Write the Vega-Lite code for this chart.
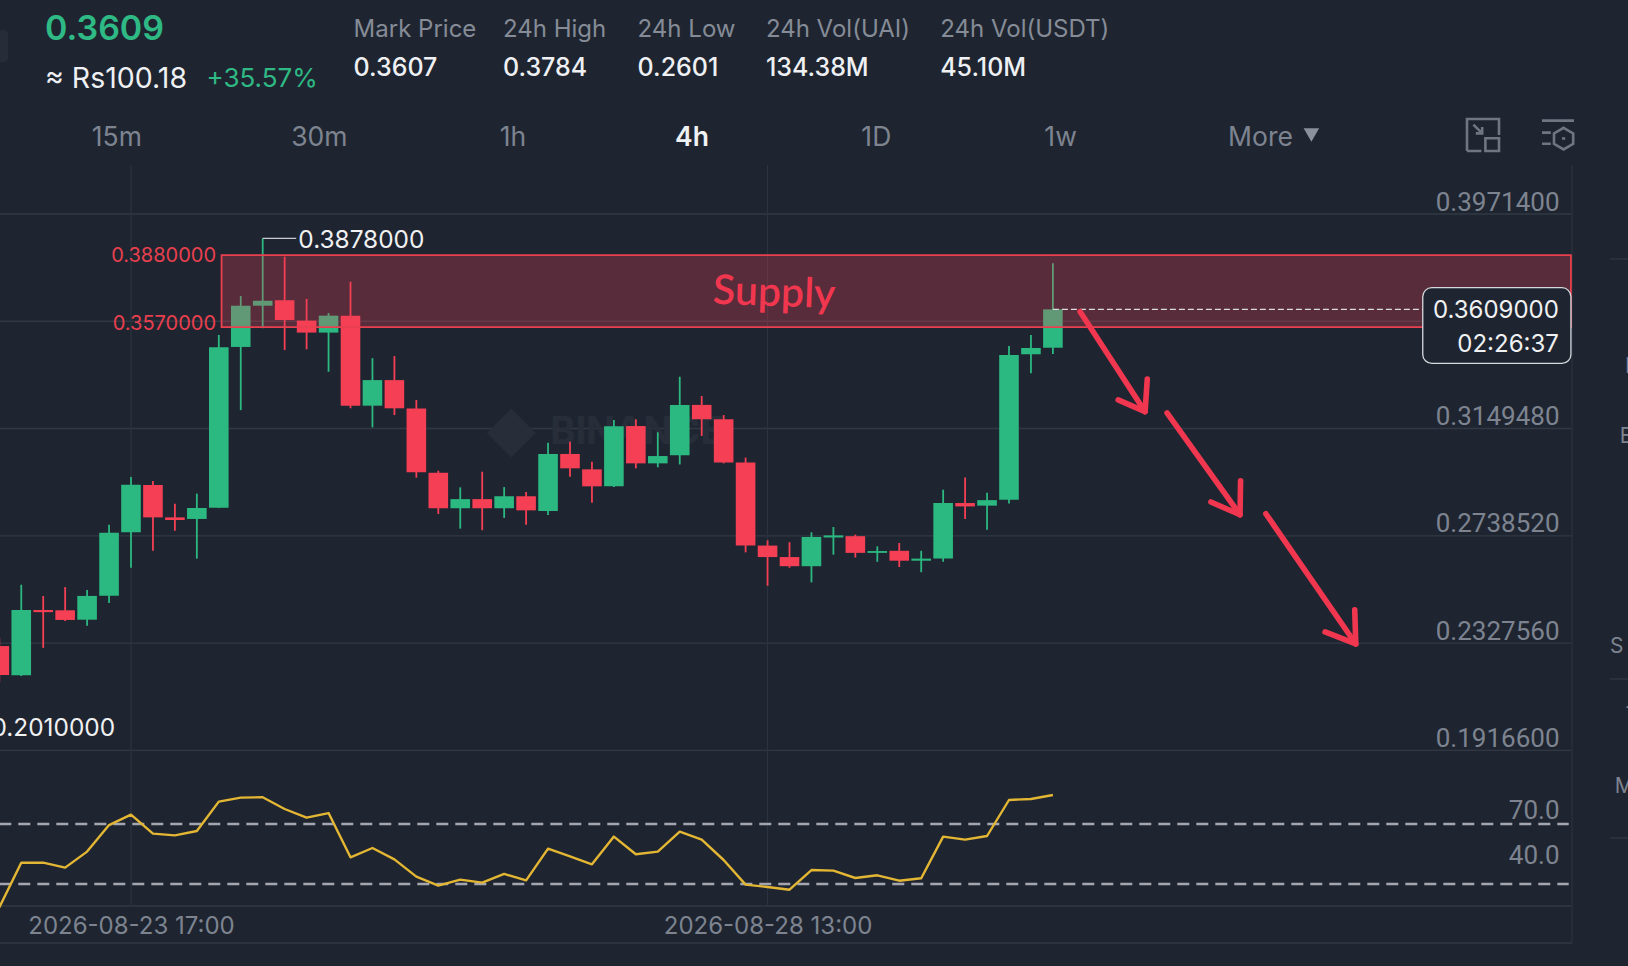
{
  "$schema": "https://vega.github.io/schema/vega-lite/v6.json",
  "width": 1628,
  "height": 966,
  "padding": 0,
  "autosize": {"type": "none"},
  "background": "#1f2530",
  "config": {"view": {"stroke": null}, "text": {"font": "Inter"}},
  "datasets": {
    "candles": [
      {"time":"2026-08-22T17:00","open":0.2316,"high":0.2347,"low":0.2178,"close":0.2205,"dir":"down"},
      {"time":"2026-08-22T21:00","open":0.2204,"high":0.2551,"low":0.2201,"close":0.2454,"dir":"up"},
      {"time":"2026-08-23T01:00","open":0.2454,"high":0.2508,"low":0.2309,"close":0.2446,"dir":"down"},
      {"time":"2026-08-23T05:00","open":0.2453,"high":0.2542,"low":0.2412,"close":0.2416,"dir":"down"},
      {"time":"2026-08-23T09:00","open":0.2417,"high":0.2531,"low":0.2394,"close":0.2508,"dir":"up"},
      {"time":"2026-08-23T13:00","open":0.2509,"high":0.2781,"low":0.2481,"close":0.2750,"dir":"up"},
      {"time":"2026-08-23T17:00","open":0.2752,"high":0.2964,"low":0.2616,"close":0.2934,"dir":"up"},
      {"time":"2026-08-23T21:00","open":0.2933,"high":0.2948,"low":0.2681,"close":0.2809,"dir":"down"},
      {"time":"2026-08-24T01:00","open":0.2809,"high":0.2861,"low":0.2758,"close":0.2799,"dir":"down"},
      {"time":"2026-08-24T05:00","open":0.2803,"high":0.2900,"low":0.2651,"close":0.2845,"dir":"up"},
      {"time":"2026-08-24T09:00","open":0.2846,"high":0.3508,"low":0.2845,"close":0.3461,"dir":"up"},
      {"time":"2026-08-24T13:00","open":0.3462,"high":0.3657,"low":0.3220,"close":0.3620,"dir":"up"},
      {"time":"2026-08-24T17:00","open":0.3620,"high":0.3878,"low":0.3534,"close":0.3639,"dir":"up"},
      {"time":"2026-08-24T21:00","open":0.3641,"high":0.3808,"low":0.3450,"close":0.3565,"dir":"down"},
      {"time":"2026-08-25T01:00","open":0.3563,"high":0.3646,"low":0.3453,"close":0.3517,"dir":"down"},
      {"time":"2026-08-25T05:00","open":0.3517,"high":0.3592,"low":0.3367,"close":0.3582,"dir":"up"},
      {"time":"2026-08-25T09:00","open":0.3582,"high":0.3712,"low":0.3227,"close":0.3237,"dir":"down"},
      {"time":"2026-08-25T13:00","open":0.3237,"high":0.3419,"low":0.3154,"close":0.3335,"dir":"up"},
      {"time":"2026-08-25T17:00","open":0.3335,"high":0.3427,"low":0.3201,"close":0.3227,"dir":"down"},
      {"time":"2026-08-25T21:00","open":0.3226,"high":0.3259,"low":0.2961,"close":0.2982,"dir":"down"},
      {"time":"2026-08-26T01:00","open":0.2980,"high":0.2988,"low":0.2822,"close":0.2844,"dir":"down"},
      {"time":"2026-08-26T05:00","open":0.2844,"high":0.2924,"low":0.2766,"close":0.2879,"dir":"up"},
      {"time":"2026-08-26T09:00","open":0.2879,"high":0.2984,"low":0.2760,"close":0.2844,"dir":"down"},
      {"time":"2026-08-26T13:00","open":0.2844,"high":0.2925,"low":0.2807,"close":0.2890,"dir":"up"},
      {"time":"2026-08-26T17:00","open":0.2890,"high":0.2906,"low":0.2781,"close":0.2836,"dir":"down"},
      {"time":"2026-08-26T21:00","open":0.2833,"high":0.3095,"low":0.2818,"close":0.3052,"dir":"up"},
      {"time":"2026-08-27T01:00","open":0.3052,"high":0.3099,"low":0.2965,"close":0.2997,"dir":"down"},
      {"time":"2026-08-27T05:00","open":0.2993,"high":0.3022,"low":0.2865,"close":0.2928,"dir":"down"},
      {"time":"2026-08-27T09:00","open":0.2928,"high":0.3182,"low":0.2925,"close":0.3158,"dir":"up"},
      {"time":"2026-08-27T13:00","open":0.3159,"high":0.3185,"low":0.2997,"close":0.3016,"dir":"down"},
      {"time":"2026-08-27T17:00","open":0.3016,"high":0.3135,"low":0.3001,"close":0.3044,"dir":"up"},
      {"time":"2026-08-27T21:00","open":0.3047,"high":0.3348,"low":0.3012,"close":0.3240,"dir":"up"},
      {"time":"2026-08-28T01:00","open":0.3240,"high":0.3274,"low":0.3121,"close":0.3185,"dir":"down"},
      {"time":"2026-08-28T05:00","open":0.3185,"high":0.3201,"low":0.3016,"close":0.3019,"dir":"down"},
      {"time":"2026-08-28T09:00","open":0.3019,"high":0.3038,"low":0.2675,"close":0.2701,"dir":"down"},
      {"time":"2026-08-28T13:00","open":0.2701,"high":0.2721,"low":0.2547,"close":0.2657,"dir":"down"},
      {"time":"2026-08-28T17:00","open":0.2657,"high":0.2714,"low":0.2616,"close":0.2622,"dir":"down"},
      {"time":"2026-08-28T21:00","open":0.2622,"high":0.2752,"low":0.2560,"close":0.2734,"dir":"up"},
      {"time":"2026-08-29T01:00","open":0.2732,"high":0.2772,"low":0.2666,"close":0.2740,"dir":"up"},
      {"time":"2026-08-29T05:00","open":0.2737,"high":0.2743,"low":0.2655,"close":0.2673,"dir":"down"},
      {"time":"2026-08-29T09:00","open":0.2673,"high":0.2698,"low":0.2639,"close":0.2680,"dir":"up"},
      {"time":"2026-08-29T13:00","open":0.2681,"high":0.2711,"low":0.2619,"close":0.2643,"dir":"down"},
      {"time":"2026-08-29T17:00","open":0.2643,"high":0.2681,"low":0.2599,"close":0.2651,"dir":"up"},
      {"time":"2026-08-29T21:00","open":0.2651,"high":0.2915,"low":0.2639,"close":0.2864,"dir":"up"},
      {"time":"2026-08-30T01:00","open":0.2864,"high":0.2962,"low":0.2803,"close":0.2851,"dir":"down"},
      {"time":"2026-08-30T05:00","open":0.2854,"high":0.2903,"low":0.2762,"close":0.2875,"dir":"up"},
      {"time":"2026-08-30T09:00","open":0.2877,"high":0.3466,"low":0.2862,"close":0.3431,"dir":"up"},
      {"time":"2026-08-30T13:00","open":0.3434,"high":0.3508,"low":0.3361,"close":0.3458,"dir":"up"},
      {"time":"2026-08-30T17:00","open":0.3459,"high":0.3783,"low":0.3435,"close":0.3606,"dir":"up"}
    ],
    "rsi": [
      {"time":"2026-08-22T17:00","rsi":14.4},{"time":"2026-08-22T21:00","rsi":44.2},{"time":"2026-08-23T01:00","rsi":44.2},
      {"time":"2026-08-23T05:00","rsi":40.9},{"time":"2026-08-23T09:00","rsi":51.6},{"time":"2026-08-23T13:00","rsi":69.3},
      {"time":"2026-08-23T17:00","rsi":76.2},{"time":"2026-08-23T21:00","rsi":63.6},{"time":"2026-08-24T01:00","rsi":62.4},
      {"time":"2026-08-24T05:00","rsi":65.3},{"time":"2026-08-24T09:00","rsi":84.9},{"time":"2026-08-24T13:00","rsi":87.6},
      {"time":"2026-08-24T17:00","rsi":87.8},{"time":"2026-08-24T21:00","rsi":80},{"time":"2026-08-25T01:00","rsi":74.2},
      {"time":"2026-08-25T05:00","rsi":77.3},{"time":"2026-08-25T09:00","rsi":47.8},{"time":"2026-08-25T13:00","rsi":54},
      {"time":"2026-08-25T17:00","rsi":46.4},{"time":"2026-08-25T21:00","rsi":34.9},{"time":"2026-08-26T01:00","rsi":28.9},
      {"time":"2026-08-26T05:00","rsi":32.9},{"time":"2026-08-26T09:00","rsi":30.9},{"time":"2026-08-26T13:00","rsi":36.7},
      {"time":"2026-08-26T17:00","rsi":32.4},{"time":"2026-08-26T21:00","rsi":53.6},{"time":"2026-08-27T01:00","rsi":48.4},
      {"time":"2026-08-27T05:00","rsi":43.1},{"time":"2026-08-27T09:00","rsi":61.6},{"time":"2026-08-27T13:00","rsi":49.8},
      {"time":"2026-08-27T17:00","rsi":51.6},{"time":"2026-08-27T21:00","rsi":64.9},{"time":"2026-08-28T01:00","rsi":59.6},
      {"time":"2026-08-28T05:00","rsi":46},{"time":"2026-08-28T09:00","rsi":29.6},{"time":"2026-08-28T13:00","rsi":28},
      {"time":"2026-08-28T17:00","rsi":26.2},{"time":"2026-08-28T21:00","rsi":39.3},{"time":"2026-08-29T01:00","rsi":38.9},
      {"time":"2026-08-29T05:00","rsi":34},{"time":"2026-08-29T09:00","rsi":35.8},{"time":"2026-08-29T13:00","rsi":32.2},
      {"time":"2026-08-29T17:00","rsi":33.8},{"time":"2026-08-29T21:00","rsi":61.6},{"time":"2026-08-30T01:00","rsi":59.6},
      {"time":"2026-08-30T05:00","rsi":62},{"time":"2026-08-30T09:00","rsi":86},{"time":"2026-08-30T13:00","rsi":86.7},
      {"time":"2026-08-30T17:00","rsi":89.3}
    ],
    "arrows": [
      {"arrow":"a","seq":1,"time":"2026-08-30T21:58","price":0.3597},{"arrow":"a","seq":2,"time":"2026-08-31T09:48","price":0.3214},
      {"arrow":"ah","seq":1,"time":"2026-08-31T04:54","price":0.3259},{"arrow":"ah","seq":2,"time":"2026-08-31T09:48","price":0.3214},{"arrow":"ah","seq":3,"time":"2026-08-31T10:12","price":0.3339},
      {"arrow":"b","seq":1,"time":"2026-08-31T13:48","price":0.3209},{"arrow":"b","seq":2,"time":"2026-09-01T03:06","price":0.2819},
      {"arrow":"bh","seq":1,"time":"2026-08-31T21:48","price":0.2868},{"arrow":"bh","seq":2,"time":"2026-09-01T03:06","price":0.2819},{"arrow":"bh","seq":3,"time":"2026-09-01T03:12","price":0.2949},
      {"arrow":"c","seq":1,"time":"2026-09-01T07:48","price":0.2823},{"arrow":"c","seq":2,"time":"2026-09-02T00:12","price":0.2324},
      {"arrow":"ch","seq":1,"time":"2026-09-01T18:36","price":0.2370},{"arrow":"ch","seq":2,"time":"2026-09-02T00:12","price":0.2324},{"arrow":"ch","seq":3,"time":"2026-09-02T00:00","price":0.2455}
    ]
  },
  "layer": [
    {
      "data": {"values": [
        {"price":0.39714,"from":"2026-08-22T17:00","to":"2026-09-03T15:36"},
        {"price":0.356044,"from":"2026-08-22T17:00","to":"2026-09-03T15:36"},
        {"price":0.314948,"from":"2026-08-22T17:00","to":"2026-09-03T15:36"},
        {"price":0.273852,"from":"2026-08-22T17:00","to":"2026-09-03T15:36"},
        {"price":0.232756,"from":"2026-08-22T17:00","to":"2026-09-03T15:36"},
        {"price":0.19166,"from":"2026-08-22T17:00","to":"2026-09-03T15:36"}
      ], "format": {"parse": {"from":"date","to":"date"}}},
      "mark": {"type":"rule","color":"#313843","strokeWidth":1.3},
      "encoding": {
        "x": {"field":"from","type":"temporal","scale":{"domain":["2026-08-22T17:00","2026-08-30T17:00"],"range":[-0.7,1052.9],"nice":false,"padding":0},"axis":null},
        "x2": {"field":"to"},
        "y": {"field":"price","type":"quantitative","scale":{"domain":[0.19166,0.39714],"range":[750.3,214],"nice":false,"zero":false},
          "axis":{"orient":"right","offset":-69,"values":[0.39714,0.314948,0.273852,0.232756,0.19166],"format":".7f","domain":false,"ticks":false,"grid":false,"title":null,"labelAlign":"right","labelBaseline":"middle","labelOffset":-12,"labelPadding":0,"labelFontSize":26,"labelColor":"#7d8490","labelFont":"Roboto","labelLimit":400,"labelFlush":false,"labelOverlap":false,"labelBound":false}}
      }
    },
    {
      "data": {"values": [
        {"level":15.33,"from":"2026-08-22T17:00","to":"2026-09-03T15:36"},
        {"level":-9.33,"from":"2026-08-22T17:00","to":"2026-09-03T15:36"}
      ], "format":{"parse":{"from":"date","to":"date"}}},
      "mark": {"type":"rule","color":"#313843","strokeWidth":1.3},
      "encoding": {
        "x": {"field":"from","type":"temporal","scale":{"domain":["2026-08-22T17:00","2026-08-30T17:00"],"range":[-0.7,1052.9],"nice":false,"padding":0},
          "axis":{"orient":"bottom","offset":-54,"values":["2026-08-23T17:00","2026-08-28T13:00"],"format":"%Y-%m-%d %H:%M","domain":false,"ticks":false,"grid":false,"title":null,"labelAlign":"center","labelBaseline":"top","labelPadding":2,"labelFontSize":24,"labelColor":"#7d8490","labelFont":"Inter","labelLimit":400,"labelFlush":false,"labelOverlap":false,"labelBound":false}},
        "x2": {"field":"to"},
        "y": {"field":"level","type":"quantitative","scale":{"domain":[30,70],"range":[884,824],"nice":false,"zero":false},
          "axis":{"orient":"right","offset":-69,"values":[70,40],"format":".1f","domain":false,"ticks":false,"grid":false,"title":null,"labelAlign":"right","labelBaseline":"middle","labelOffset":-14,"labelPadding":0,"labelFontSize":26,"labelColor":"#7d8490","labelFont":"Roboto","labelFlush":false,"labelOverlap":false,"labelBound":false}}
      }
    },
    {
      "layer": [
        {
          "data": {"values": [
            {"time":"2026-08-23T17:00","top":0.41592,"bottom":0.13201},
            {"time":"2026-08-28T13:00","top":0.41592,"bottom":0.13201},
            {"time":"2026-09-03T15:36","top":0.41592,"bottom":0.11782}
          ]},
          "mark": {"type":"rule","color":"#2c333e","strokeWidth":1.2},
          "encoding": {
            "x": {"field":"time","type":"temporal","scale":{"domain":["2026-08-22T17:00","2026-08-30T17:00"],"range":[-0.7,1052.9],"nice":false,"padding":0},"axis":null},
            "y": {"field":"top","type":"quantitative","scale":{"domain":[0.19166,0.39714],"range":[750.3,214],"nice":false,"zero":false},"axis":null},
            "y2": {"field":"bottom"}
          }
        },
        {
          "data": {"values": [{"time":"2026-08-26T14:18","price":0.3132}]},
          "mark": {"type":"point","shape":"diamond","filled":true,"color":"#272e39","size":2400,"opacity":1},
          "encoding": {
            "x": {"field":"time","type":"temporal","scale":{"domain":["2026-08-22T17:00","2026-08-30T17:00"],"range":[-0.7,1052.9],"nice":false,"padding":0},"axis":null},
            "y": {"field":"price","type":"quantitative","scale":{"domain":[0.19166,0.39714],"range":[750.3,214],"nice":false,"zero":false},"axis":null}
          }
        },
        {
          "data": {"values": [{"time":"2026-08-26T21:24","price":0.3132,"label":"BINANCE"}]},
          "mark": {"type":"text","align":"left","baseline":"middle","fontSize":38,"fontWeight":700,"color":"#272e39"},
          "encoding": {
            "x": {"field":"time","type":"temporal","scale":{"domain":["2026-08-22T17:00","2026-08-30T17:00"],"range":[-0.7,1052.9],"nice":false,"padding":0},"axis":null},
            "y": {"field":"price","type":"quantitative","scale":{"domain":[0.19166,0.39714],"range":[750.3,214],"nice":false,"zero":false},"axis":null},
            "text": {"field":"label"}
          }
        },
        {
          "data": {"name":"candles"},
          "mark": {"type":"rule","strokeWidth":1.8},
          "encoding": {
            "x": {"field":"time","type":"temporal","scale":{"domain":["2026-08-22T17:00","2026-08-30T17:00"],"range":[-0.7,1052.9],"nice":false,"padding":0},"axis":null},
            "y": {"field":"low","type":"quantitative","scale":{"domain":[0.19166,0.39714],"range":[750.3,214],"nice":false,"zero":false},"axis":null},
            "y2": {"field":"high"},
            "color": {"field":"dir","type":"nominal","scale":{"domain":["up","down"],"range":["#2bb981","#f43f54"]},"legend":null}
          }
        },
        {
          "data": {"name":"candles"},
          "mark": {"type":"bar","width":19.6,"orient":"vertical"},
          "encoding": {
            "x": {"field":"time","type":"temporal","scale":{"domain":["2026-08-22T17:00","2026-08-30T17:00"],"range":[-0.7,1052.9],"nice":false,"padding":0},"axis":null},
            "y": {"field":"open","type":"quantitative","scale":{"domain":[0.19166,0.39714],"range":[750.3,214],"nice":false,"zero":false},"axis":null},
            "y2": {"field":"close"},
            "color": {"field":"dir","type":"nominal","scale":{"domain":["up","down"],"range":["#2bb981","#f43f54"]},"legend":null}
          }
        },
        {
          "data": {"values": [{"from":"2026-08-24T09:30","to":"2026-09-03T15:24","top":0.3814,"bottom":0.3538}], "format":{"parse":{"from":"date","to":"date"}}},
          "mark": {"type":"rect","fill":"#f43f54","fillOpacity":0.27,"stroke":"#e8404f","strokeWidth":1.8},
          "encoding": {
            "x": {"field":"from","type":"temporal","scale":{"domain":["2026-08-22T17:00","2026-08-30T17:00"],"range":[-0.7,1052.9],"nice":false,"padding":0},"axis":null},
            "x2": {"field":"to"},
            "y": {"field":"top","type":"quantitative","scale":{"domain":[0.19166,0.39714],"range":[750.3,214],"nice":false,"zero":false},"axis":null},
            "y2": {"field":"bottom"}
          }
        },
        {
          "data": {"values": [{"from":"2026-08-30T17:00","to":"2026-09-02T12:24","price":0.3606}], "format":{"parse":{"from":"date","to":"date"}}},
          "mark": {"type":"rule","color":"#d9dce1","strokeWidth":1.2,"strokeDash":[6,3]},
          "encoding": {
            "x": {"field":"from","type":"temporal","scale":{"domain":["2026-08-22T17:00","2026-08-30T17:00"],"range":[-0.7,1052.9],"nice":false,"padding":0},"axis":null},
            "x2": {"field":"to"},
            "y": {"field":"price","type":"quantitative","scale":{"domain":[0.19166,0.39714],"range":[750.3,214],"nice":false,"zero":false},"axis":null}
          }
        },
        {
          "data": {"values": [{"from":"2026-08-24T17:00","to":"2026-08-24T23:06","price":0.3878}], "format":{"parse":{"from":"date","to":"date"}}},
          "mark": {"type":"rule","color":"#c8ccd2","strokeWidth":1.3},
          "encoding": {
            "x": {"field":"from","type":"temporal","scale":{"domain":["2026-08-22T17:00","2026-08-30T17:00"],"range":[-0.7,1052.9],"nice":false,"padding":0},"axis":null},
            "x2": {"field":"to"},
            "y": {"field":"price","type":"quantitative","scale":{"domain":[0.19166,0.39714],"range":[750.3,214],"nice":false,"zero":false},"axis":null}
          }
        },
        {
          "data": {"name":"arrows"},
          "mark": {"type":"line","color":"#f0374f","strokeWidth":5.6,"strokeCap":"round","strokeJoin":"round"},
          "encoding": {
            "x": {"field":"time","type":"temporal","scale":{"domain":["2026-08-22T17:00","2026-08-30T17:00"],"range":[-0.7,1052.9],"nice":false,"padding":0},"axis":null},
            "y": {"field":"price","type":"quantitative","scale":{"domain":[0.19166,0.39714],"range":[750.3,214],"nice":false,"zero":false},"axis":null},
            "detail": {"field":"arrow"},
            "order": {"field":"seq"}
          }
        },
        {
          "data": {"values": [{"from":"2026-09-02T12:24","to":"2026-09-03T15:24","top":0.3689,"bottom":0.3399}], "format":{"parse":{"from":"date","to":"date"}}},
          "mark": {"type":"rect","fill":"#1f2530","stroke":"#d5d8dd","strokeWidth":1.3,"cornerRadius":9},
          "encoding": {
            "x": {"field":"from","type":"temporal","scale":{"domain":["2026-08-22T17:00","2026-08-30T17:00"],"range":[-0.7,1052.9],"nice":false,"padding":0},"axis":null},
            "x2": {"field":"to"},
            "y": {"field":"top","type":"quantitative","scale":{"domain":[0.19166,0.39714],"range":[750.3,214],"nice":false,"zero":false},"axis":null},
            "y2": {"field":"bottom"}
          }
        },
        {
          "data": {"values": [
            {"time":"2026-09-03T13:12","price":0.3599,"label":"0.3609000"},
            {"time":"2026-09-03T13:12","price":0.3471,"label":"02:26:37"}
          ]},
          "mark": {"type":"text","align":"right","baseline":"middle","fontSize":24,"color":"#f0f1f3"},
          "encoding": {
            "x": {"field":"time","type":"temporal","scale":{"domain":["2026-08-22T17:00","2026-08-30T17:00"],"range":[-0.7,1052.9],"nice":false,"padding":0},"axis":null},
            "y": {"field":"price","type":"quantitative","scale":{"domain":[0.19166,0.39714],"range":[750.3,214],"nice":false,"zero":false},"axis":null},
            "text": {"field":"label"}
          }
        },
        {
          "data": {"values": [
            {"time":"2026-08-24T08:30","price":0.3810,"label":"0.3880000"},
            {"time":"2026-08-24T08:30","price":0.3551,"label":"0.3570000"}
          ]},
          "mark": {"type":"text","align":"right","baseline":"middle","fontSize":20,"color":"#e8404f"},
          "encoding": {
            "x": {"field":"time","type":"temporal","scale":{"domain":["2026-08-22T17:00","2026-08-30T17:00"],"range":[-0.7,1052.9],"nice":false,"padding":0},"axis":null},
            "y": {"field":"price","type":"quantitative","scale":{"domain":[0.19166,0.39714],"range":[750.3,214],"nice":false,"zero":false},"axis":null},
            "text": {"field":"label"}
          }
        },
        {
          "data": {"values": [{"time":"2026-08-24T23:30","price":0.3868,"label":"0.3878000"}]},
          "mark": {"type":"text","align":"left","baseline":"middle","fontSize":24.4,"color":"#f0f1f3"},
          "encoding": {
            "x": {"field":"time","type":"temporal","scale":{"domain":["2026-08-22T17:00","2026-08-30T17:00"],"range":[-0.7,1052.9],"nice":false,"padding":0},"axis":null},
            "y": {"field":"price","type":"quantitative","scale":{"domain":[0.19166,0.39714],"range":[750.3,214],"nice":false,"zero":false},"axis":null},
            "text": {"field":"label"}
          }
        },
        {
          "data": {"values": [{"time":"2026-08-23T14:06","price":0.1999,"label":"0.2010000"}]},
          "mark": {"type":"text","align":"right","baseline":"middle","fontSize":24.4,"color":"#f0f1f3"},
          "encoding": {
            "x": {"field":"time","type":"temporal","scale":{"domain":["2026-08-22T17:00","2026-08-30T17:00"],"range":[-0.7,1052.9],"nice":false,"padding":0},"axis":null},
            "y": {"field":"price","type":"quantitative","scale":{"domain":[0.19166,0.39714],"range":[750.3,214],"nice":false,"zero":false},"axis":null},
            "text": {"field":"label"}
          }
        },
        {
          "data": {"values": [{"time":"2026-08-28T14:12","price":0.3665,"label":"Supply"}]},
          "mark": {"type":"text","align":"center","baseline":"middle","font":"Lato","fontSize":41,"fontWeight":600,"angle":2,"color":"#f0374f"},
          "encoding": {
            "x": {"field":"time","type":"temporal","scale":{"domain":["2026-08-22T17:00","2026-08-30T17:00"],"range":[-0.7,1052.9],"nice":false,"padding":0},"axis":null},
            "y": {"field":"price","type":"quantitative","scale":{"domain":[0.19166,0.39714],"range":[750.3,214],"nice":false,"zero":false},"axis":null},
            "text": {"field":"label"}
          }
        }
      ]
    },
    {
      "layer": [
        {
          "data": {"values": [
            {"level":70,"from":"2026-08-22T17:00","to":"2026-09-03T15:00"},
            {"level":30,"from":"2026-08-22T17:00","to":"2026-09-03T15:00"}
          ], "format":{"parse":{"from":"date","to":"date"}}},
          "mark": {"type":"rule","color":"#a3a6ae","strokeWidth":2.4,"strokeDash":[12,7]},
          "encoding": {
            "x": {"field":"from","type":"temporal","scale":{"domain":["2026-08-22T17:00","2026-08-30T17:00"],"range":[-0.7,1052.9],"nice":false,"padding":0},"axis":null},
            "x2": {"field":"to"},
            "y": {"field":"level","type":"quantitative","scale":{"domain":[30,70],"range":[884,824],"nice":false,"zero":false},"axis":null}
          }
        },
        {
          "data": {"name":"rsi"},
          "mark": {"type":"line","color":"#e3b634","strokeWidth":2.4,"strokeJoin":"round"},
          "encoding": {
            "x": {"field":"time","type":"temporal","scale":{"domain":["2026-08-22T17:00","2026-08-30T17:00"],"range":[-0.7,1052.9],"nice":false,"padding":0},"axis":null},
            "y": {"field":"rsi","type":"quantitative","scale":{"domain":[30,70],"range":[884,824],"nice":false,"zero":false},"axis":null}
          }
        }
      ]
    },
    {
      "layer": [
        {
          "data": {"values": [{"slot":17,"slotEnd":18,"row":13,"rowEnd":14}]},
          "mark": {"type":"rect","fill":"#272d38","cornerRadius":4},
          "encoding": {
            "x": {"field":"slot","type":"quantitative","scale":{"domain":[0,1,2,3,4,5,6,7,8,9,10,11,12,13,14,15,16,17,18,19,20,21,22,23],"range":[45,206.5,353.6,503,637.6,765.9,940.2,116.8,319.3,513,692,876.3,1060.6,1260.5,1311.4,1483,1558,-4,8,1610,1628,1619.7,1625,1614.7],"nice":false,"zero":false},"axis":null},
            "x2": {"field":"slotEnd"},
            "y": {"field":"row","type":"quantitative","scale":{"domain":[0,1,2,3,4,5,6,7,8,9,10,11,12,13,14],"range":[29.5,67.7,79,137.7,135,259,367,437,647,679,787,838,708,30,62],"nice":false,"zero":false},"axis":null},
            "y2": {"field":"rowEnd"}
          }
        },
        {
          "data": {"values": [
            {"slot":19,"slotEnd":20,"row":5},{"slot":19,"slotEnd":20,"row":9},{"slot":19,"slotEnd":20,"row":11}
          ]},
          "mark": {"type":"rule","color":"#313843","strokeWidth":1.3},
          "encoding": {
            "x": {"field":"slot","type":"quantitative","scale":{"domain":[0,1,2,3,4,5,6,7,8,9,10,11,12,13,14,15,16,17,18,19,20,21,22,23],"range":[45,206.5,353.6,503,637.6,765.9,940.2,116.8,319.3,513,692,876.3,1060.6,1260.5,1311.4,1483,1558,-4,8,1610,1628,1619.7,1625,1614.7],"nice":false,"zero":false},"axis":null},
            "x2": {"field":"slotEnd"},
            "y": {"field":"row","type":"quantitative","scale":{"domain":[0,1,2,3,4,5,6,7,8,9,10,11,12,13,14],"range":[29.5,67.7,79,137.7,135,259,367,437,647,679,787,838,708,30,62],"nice":false,"zero":false},"axis":null}
          }
        },
        {
          "data": {"values": [{"slot":0,"row":0,"text":"0.3609"}]},
          "mark": {"type":"text","align":"left","baseline":"middle","fontSize":34,"fontWeight":600,"color":"#2eb985"},
          "encoding": {
            "x": {"field":"slot","type":"quantitative","scale":{"domain":[0,1,2,3,4,5,6,7,8,9,10,11,12,13,14,15,16,17,18,19,20,21,22,23],"range":[45,206.5,353.6,503,637.6,765.9,940.2,116.8,319.3,513,692,876.3,1060.6,1260.5,1311.4,1483,1558,-4,8,1610,1628,1619.7,1625,1614.7],"nice":false,"zero":false},"axis":null},
            "y": {"field":"row","type":"quantitative","scale":{"domain":[0,1,2,3,4,5,6,7,8,9,10,11,12,13,14],"range":[29.5,67.7,79,137.7,135,259,367,437,647,679,787,838,708,30,62],"nice":false,"zero":false},"axis":null},
            "text": {"field":"text"}
          }
        },
        {
          "data": {"values": [{"slot":0,"row":2,"text":"≈ Rs100.18"}]},
          "mark": {"type":"text","align":"left","baseline":"middle","fontSize":28.5,"fontWeight":400,"color":"#eef0f3"},
          "encoding": {
            "x": {"field":"slot","type":"quantitative","scale":{"domain":[0,1,2,3,4,5,6,7,8,9,10,11,12,13,14,15,16,17,18,19,20,21,22,23],"range":[45,206.5,353.6,503,637.6,765.9,940.2,116.8,319.3,513,692,876.3,1060.6,1260.5,1311.4,1483,1558,-4,8,1610,1628,1619.7,1625,1614.7],"nice":false,"zero":false},"axis":null},
            "y": {"field":"row","type":"quantitative","scale":{"domain":[0,1,2,3,4,5,6,7,8,9,10,11,12,13,14],"range":[29.5,67.7,79,137.7,135,259,367,437,647,679,787,838,708,30,62],"nice":false,"zero":false},"axis":null},
            "text": {"field":"text"}
          }
        },
        {
          "data": {"values": [{"slot":1,"row":2,"text":"+35.57%"}]},
          "mark": {"type":"text","align":"left","baseline":"middle","fontSize":26,"color":"#2eb985"},
          "encoding": {
            "x": {"field":"slot","type":"quantitative","scale":{"domain":[0,1,2,3,4,5,6,7,8,9,10,11,12,13,14,15,16,17,18,19,20,21,22,23],"range":[45,206.5,353.6,503,637.6,765.9,940.2,116.8,319.3,513,692,876.3,1060.6,1260.5,1311.4,1483,1558,-4,8,1610,1628,1619.7,1625,1614.7],"nice":false,"zero":false},"axis":null},
            "y": {"field":"row","type":"quantitative","scale":{"domain":[0,1,2,3,4,5,6,7,8,9,10,11,12,13,14],"range":[29.5,67.7,79,137.7,135,259,367,437,647,679,787,838,708,30,62],"nice":false,"zero":false},"axis":null},
            "text": {"field":"text"}
          }
        },
        {
          "data": {"values": [
            {"slot":2,"row":0,"text":"Mark Price"},{"slot":3,"row":0,"text":"24h High"},{"slot":4,"row":0,"text":"24h Low"},{"slot":5,"row":0,"text":"24h Vol(UAI)"},{"slot":6,"row":0,"text":"24h Vol(USDT)"}
          ]},
          "mark": {"type":"text","align":"left","baseline":"middle","fontSize":24,"color":"#858c97"},
          "encoding": {
            "x": {"field":"slot","type":"quantitative","scale":{"domain":[0,1,2,3,4,5,6,7,8,9,10,11,12,13,14,15,16,17,18,19,20,21,22,23],"range":[45,206.5,353.6,503,637.6,765.9,940.2,116.8,319.3,513,692,876.3,1060.6,1260.5,1311.4,1483,1558,-4,8,1610,1628,1619.7,1625,1614.7],"nice":false,"zero":false},"axis":null},
            "y": {"field":"row","type":"quantitative","scale":{"domain":[0,1,2,3,4,5,6,7,8,9,10,11,12,13,14],"range":[29.5,67.7,79,137.7,135,259,367,437,647,679,787,838,708,30,62],"nice":false,"zero":false},"axis":null},
            "text": {"field":"text"}
          }
        },
        {
          "data": {"values": [
            {"slot":2,"row":1,"text":"0.3607"},{"slot":3,"row":1,"text":"0.3784"},{"slot":4,"row":1,"text":"0.2601"},{"slot":5,"row":1,"text":"134.38M"},{"slot":6,"row":1,"text":"45.10M"}
          ]},
          "mark": {"type":"text","align":"left","baseline":"middle","fontSize":25,"fontWeight":500,"color":"#eef0f3"},
          "encoding": {
            "x": {"field":"slot","type":"quantitative","scale":{"domain":[0,1,2,3,4,5,6,7,8,9,10,11,12,13,14,15,16,17,18,19,20,21,22,23],"range":[45,206.5,353.6,503,637.6,765.9,940.2,116.8,319.3,513,692,876.3,1060.6,1260.5,1311.4,1483,1558,-4,8,1610,1628,1619.7,1625,1614.7],"nice":false,"zero":false},"axis":null},
            "y": {"field":"row","type":"quantitative","scale":{"domain":[0,1,2,3,4,5,6,7,8,9,10,11,12,13,14],"range":[29.5,67.7,79,137.7,135,259,367,437,647,679,787,838,708,30,62],"nice":false,"zero":false},"axis":null},
            "text": {"field":"text"}
          }
        },
        {
          "data": {"values": [
            {"slot":7,"row":3,"text":"15m"},{"slot":8,"row":3,"text":"30m"},{"slot":9,"row":3,"text":"1h"},{"slot":11,"row":3,"text":"1D"},{"slot":12,"row":3,"text":"1w"},{"slot":13,"row":3,"text":"More"}
          ]},
          "mark": {"type":"text","align":"center","baseline":"middle","fontSize":26.5,"color":"#7d8490"},
          "encoding": {
            "x": {"field":"slot","type":"quantitative","scale":{"domain":[0,1,2,3,4,5,6,7,8,9,10,11,12,13,14,15,16,17,18,19,20,21,22,23],"range":[45,206.5,353.6,503,637.6,765.9,940.2,116.8,319.3,513,692,876.3,1060.6,1260.5,1311.4,1483,1558,-4,8,1610,1628,1619.7,1625,1614.7],"nice":false,"zero":false},"axis":null},
            "y": {"field":"row","type":"quantitative","scale":{"domain":[0,1,2,3,4,5,6,7,8,9,10,11,12,13,14],"range":[29.5,67.7,79,137.7,135,259,367,437,647,679,787,838,708,30,62],"nice":false,"zero":false},"axis":null},
            "text": {"field":"text"}
          }
        },
        {
          "data": {"values": [{"slot":10,"row":3,"text":"4h"}]},
          "mark": {"type":"text","align":"center","baseline":"middle","fontSize":26.5,"fontWeight":600,"color":"#f0f1f3"},
          "encoding": {
            "x": {"field":"slot","type":"quantitative","scale":{"domain":[0,1,2,3,4,5,6,7,8,9,10,11,12,13,14,15,16,17,18,19,20,21,22,23],"range":[45,206.5,353.6,503,637.6,765.9,940.2,116.8,319.3,513,692,876.3,1060.6,1260.5,1311.4,1483,1558,-4,8,1610,1628,1619.7,1625,1614.7],"nice":false,"zero":false},"axis":null},
            "y": {"field":"row","type":"quantitative","scale":{"domain":[0,1,2,3,4,5,6,7,8,9,10,11,12,13,14],"range":[29.5,67.7,79,137.7,135,259,367,437,647,679,787,838,708,30,62],"nice":false,"zero":false},"axis":null},
            "text": {"field":"text"}
          }
        },
        {
          "data": {"values": [{"slot":14,"row":4}]},
          "mark": {"type":"point","shape":"triangle-down","filled":true,"color":"#8a919c","size":240,"opacity":1},
          "encoding": {
            "x": {"field":"slot","type":"quantitative","scale":{"domain":[0,1,2,3,4,5,6,7,8,9,10,11,12,13,14,15,16,17,18,19,20,21,22,23],"range":[45,206.5,353.6,503,637.6,765.9,940.2,116.8,319.3,513,692,876.3,1060.6,1260.5,1311.4,1483,1558,-4,8,1610,1628,1619.7,1625,1614.7],"nice":false,"zero":false},"axis":null},
            "y": {"field":"row","type":"quantitative","scale":{"domain":[0,1,2,3,4,5,6,7,8,9,10,11,12,13,14],"range":[29.5,67.7,79,137.7,135,259,367,437,647,679,787,838,708,30,62],"nice":false,"zero":false},"axis":null}
          }
        },
        {
          "data": {"values": [{"slot":15,"row":4}]},
          "mark": {"type":"point","shape":"M-1,1 L-1,-1 L1,-1 L1,0 M-1,1 L-0.1,1 M0.15,0.2 L1,0.2 L1,1 L0.15,1 Z M-0.6,-0.65 L-0.05,-0.1 M-0.45,-0.1 L-0.05,-0.1 L-0.05,-0.5","filled":false,"stroke":"#6f7682","strokeWidth":2.6,"size":1024,"opacity":1},
          "encoding": {
            "x": {"field":"slot","type":"quantitative","scale":{"domain":[0,1,2,3,4,5,6,7,8,9,10,11,12,13,14,15,16,17,18,19,20,21,22,23],"range":[45,206.5,353.6,503,637.6,765.9,940.2,116.8,319.3,513,692,876.3,1060.6,1260.5,1311.4,1483,1558,-4,8,1610,1628,1619.7,1625,1614.7],"nice":false,"zero":false},"axis":null},
            "y": {"field":"row","type":"quantitative","scale":{"domain":[0,1,2,3,4,5,6,7,8,9,10,11,12,13,14],"range":[29.5,67.7,79,137.7,135,259,367,437,647,679,787,838,708,30,62],"nice":false,"zero":false},"axis":null}
          }
        },
        {
          "data": {"values": [{"slot":16,"row":4}]},
          "mark": {"type":"point","shape":"M-1,-0.9 L1,-0.9 M-1,-0.15 L-0.45,-0.15 M-1,0.55 L-0.45,0.55 M0.35,-0.45 L0.95,-0.1 L0.95,0.55 L0.35,0.9 L-0.25,0.55 L-0.25,-0.1 Z M0.25,0.22 L0.45,0.22","filled":false,"stroke":"#6f7682","strokeWidth":2.6,"size":1024,"opacity":1},
          "encoding": {
            "x": {"field":"slot","type":"quantitative","scale":{"domain":[0,1,2,3,4,5,6,7,8,9,10,11,12,13,14,15,16,17,18,19,20,21,22,23],"range":[45,206.5,353.6,503,637.6,765.9,940.2,116.8,319.3,513,692,876.3,1060.6,1260.5,1311.4,1483,1558,-4,8,1610,1628,1619.7,1625,1614.7],"nice":false,"zero":false},"axis":null},
            "y": {"field":"row","type":"quantitative","scale":{"domain":[0,1,2,3,4,5,6,7,8,9,10,11,12,13,14],"range":[29.5,67.7,79,137.7,135,259,367,437,647,679,787,838,708,30,62],"nice":false,"zero":false},"axis":null}
          }
        },
        {
          "data": {"values": [
            {"slot":22,"row":6,"text":"I"},{"slot":21,"row":7,"text":"E"},{"slot":19,"row":8,"text":"S"},{"slot":23,"row":10,"text":"M"},{"slot":22,"row":12,"text":"-"}
          ]},
          "mark": {"type":"text","align":"left","baseline":"middle","fontSize":21,"color":"#7d8490"},
          "encoding": {
            "x": {"field":"slot","type":"quantitative","scale":{"domain":[0,1,2,3,4,5,6,7,8,9,10,11,12,13,14,15,16,17,18,19,20,21,22,23],"range":[45,206.5,353.6,503,637.6,765.9,940.2,116.8,319.3,513,692,876.3,1060.6,1260.5,1311.4,1483,1558,-4,8,1610,1628,1619.7,1625,1614.7],"nice":false,"zero":false},"axis":null},
            "y": {"field":"row","type":"quantitative","scale":{"domain":[0,1,2,3,4,5,6,7,8,9,10,11,12,13,14],"range":[29.5,67.7,79,137.7,135,259,367,437,647,679,787,838,708,30,62],"nice":false,"zero":false},"axis":null},
            "text": {"field":"text"}
          }
        }
      ]
    }
  ],
  "resolve": {
    "scale": {"x":"independent","y":"independent"},
    "axis": {"x":"independent","y":"independent"}
  }
}
